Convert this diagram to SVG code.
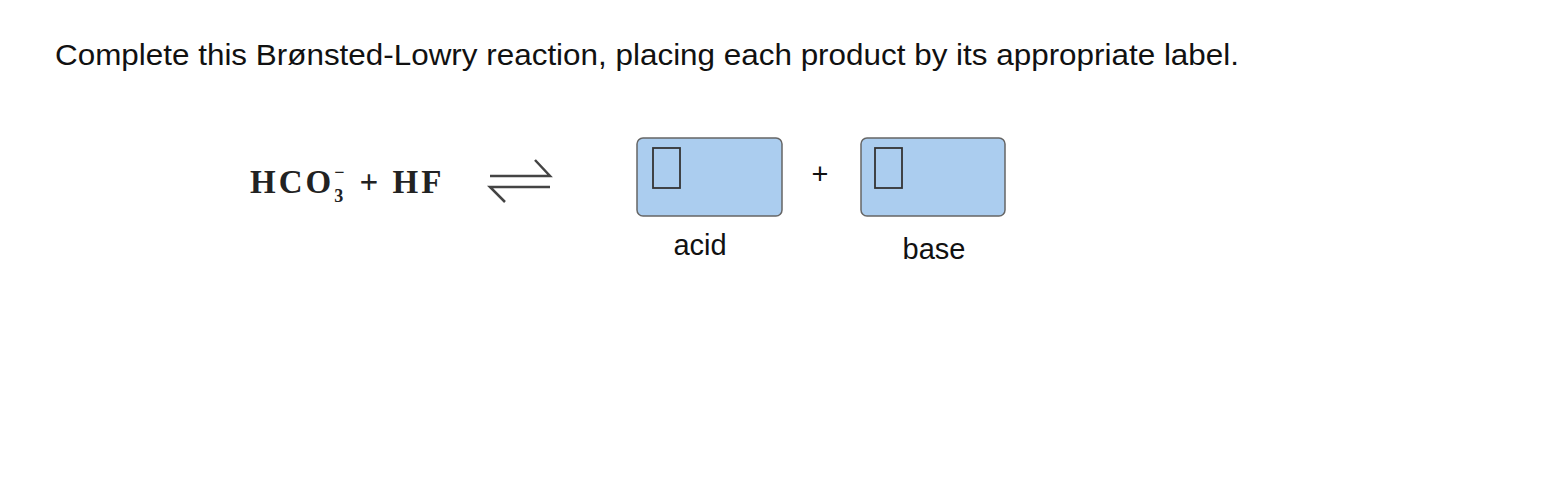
<svg xmlns="http://www.w3.org/2000/svg" width="1544" height="504" viewBox="0 0 1544 504">
<style>
.t{font-family:"Liberation Sans",Arial,sans-serif;font-size:29px;fill:#111}
.f{font-family:"Liberation Serif","Times New Roman",serif;font-weight:bold;font-size:33px;fill:#222;letter-spacing:3px}
.box{fill:#abcdef;stroke:#666;stroke-width:1.5}
.in{fill:none;stroke:#333;stroke-width:1.8}
.ar{fill:none;stroke:#444;stroke-width:2.5}
</style>
<rect width="1544" height="504" fill="#fff"/>
<text class="t" x="55" y="65" textLength="1184" lengthAdjust="spacingAndGlyphs">Complete this Brønsted-Lowry reaction, placing each product by its appropriate label.</text>
<g id="reactants">
<text class="f" x="250" y="193">HCO<tspan font-size="18" dy="9">3</tspan><tspan font-size="18" dx="-12" dy="-24">−</tspan><tspan dy="15" dx="12">+ HF</tspan></text>
</g>
<g id="connectors">
<path class="ar" d="M490 176 H550 L535 160"/>
<path class="ar" d="M550 187 H490 L505 202"/>
</g>
<g id="acid">
<rect class="box" x="637" y="138" width="145" height="78" rx="6"/>
<rect class="in" x="653" y="148" width="27" height="40"/>
<text class="t" x="700" y="255" text-anchor="middle">acid</text>
</g>
<text class="t" x="820" y="184" text-anchor="middle">+</text>
<g id="base">
<rect class="box" x="861" y="138" width="144" height="78" rx="6"/>
<rect class="in" x="875" y="148" width="27" height="40"/>
<text class="t" x="934" y="259" text-anchor="middle">base</text>
</g>
</svg>
